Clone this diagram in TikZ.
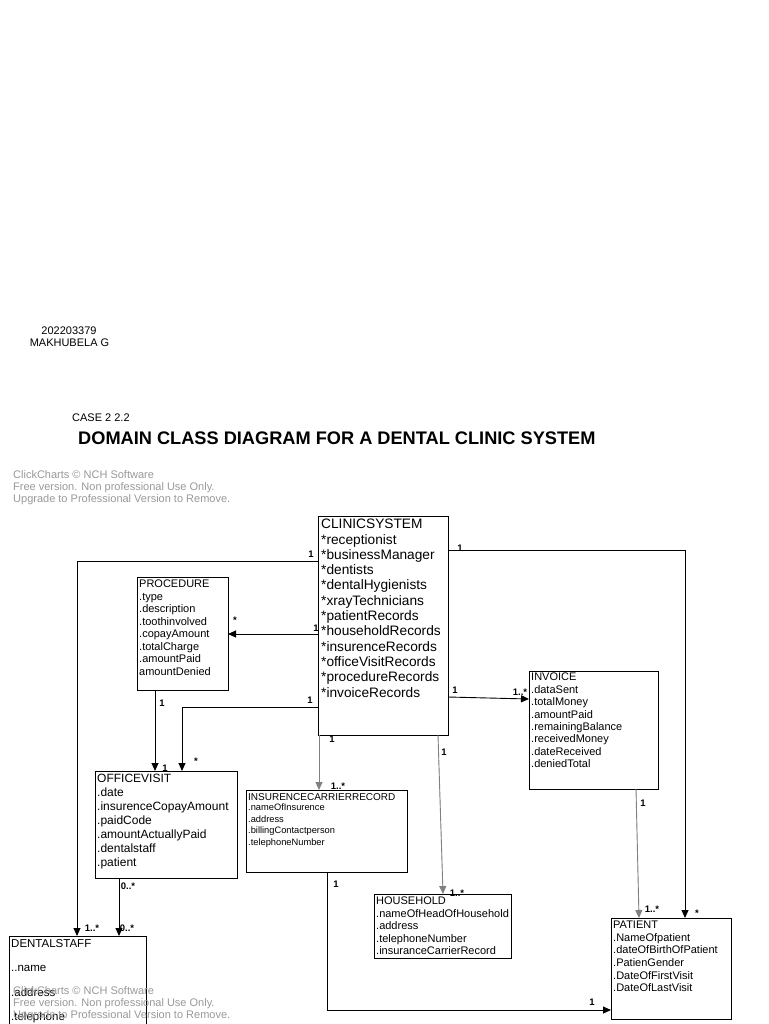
\documentclass[tikz,border=0pt]{standalone}
\usepackage{fontspec}
\setmainfont{Liberation Sans}
\usetikzlibrary{arrows.meta}
\newcommand\myfs[2]{\fontsize{#1}{#2}\selectfont}
\begin{document}
\begin{tikzpicture}[x=1pt,y=-1pt,
 box/.style={draw=black, line width=1pt, inner sep=0pt, outer sep=0pt, anchor=north west},
 txt/.style={anchor=north west, inner sep=0pt, align=left},
 conn/.style={line width=0.9pt, -{Triangle[length=8pt,width=7pt]}},
 gconn/.style={conn, draw=black!50, fill=black!50},
 mult/.style={font=\myfs{9.5}{9.5}\bfseries, inner sep=0pt},
 wm/.style={anchor=north west, inner sep=0pt, align=left, text=black!40, font=\myfs{11}{12}},
 plain/.style={inner sep=0pt, font=\myfs{11}{13}}]
\useasboundingbox[fill=white] (0,0) rectangle (768,1024);

% header texts
\node[plain] (sid) at (69,331) {202203379};
\node[plain] (sname) at (69.5,343) {MAKHUBELA G};
\node[plain, anchor=west] (case) at (72,418) {CASE 2 2.2};
\node[plain, anchor=west, font=\myfs{18.2}{20}\bfseries] (title) at (78,438) {DOMAIN CLASS DIAGRAM FOR A DENTAL CLINIC SYSTEM};
\node[wm] (wm1) at (13,470) {ClickCharts \textcopyright{} NCH Software\\Free version. Non professional Use Only.\\Upgrade to Professional Version to Remove.};

% boxes
\node[box, minimum width=130pt, minimum height=219pt] (cs) at (318,516) {};
\node[box, minimum width=91pt, minimum height=113pt] (proc) at (137,577) {};
\node[box, minimum width=129pt, minimum height=118pt] (inv) at (529,671) {};
\node[box, minimum width=142pt, minimum height=107pt] (ov) at (95,771) {};
\node[box, minimum width=161pt, minimum height=82pt] (ins) at (246,790) {};
\node[box, minimum width=137pt, minimum height=64pt] (hh) at (374,894) {};
\node[box, minimum width=120pt, minimum height=101pt] (pat) at (611,918) {};
\node[box, minimum width=137pt, minimum height=130pt] (ds) at (9,936) {};

% box texts
\node[txt, font=\myfs{13.7}{15.3}] (cst) at (321,519) {CLINICSYSTEM\\*receptionist\\*businessManager\\*dentists\\*dentalHygienists\\*xrayTechnicians\\*patientRecords\\*householdRecords\\*insurenceRecords\\*officeVisitRecords\\*procedureRecords\\*invoiceRecords};
\node[txt, font=\myfs{11}{12.5}] (proct) at (139,580) {PROCEDURE\\.type\\.description\\.toothinvolved\\.copayAmount\\.totalCharge\\.amountPaid\\amountDenied};
\node[txt, font=\myfs{11}{12.4}] (invt) at (531,673) {INVOICE\\.dataSent\\.totalMoney\\.amountPaid\\.remainingBalance\\.receivedMoney\\.dateReceived\\.deniedTotal};
\node[txt, font=\myfs{12}{14}] (ovt) at (97,774) {OFFICEVISIT\\.date\\.insurenceCopayAmount\\.paidCode\\.amountActuallyPaid\\.dentalstaff\\.patient};
\node[txt, font=\myfs{10}{11}] (inst) at (248,793) {INSURENCECARRIERRECORD};
\node[txt, font=\myfs{9.3}{11.5}] (insa) at (248,804) {.nameOfInsurence\\.address\\.billingContactperson\\.telephoneNumber};
\node[txt, font=\myfs{11}{12.5}] (hht) at (376,897) {HOUSEHOLD\\.nameOfHeadOfHousehold\\.address\\.telephoneNumber\\.insuranceCarrierRecord};
\node[txt, font=\myfs{11}{12.6}] (patt) at (613,921) {PATIENT\\.NameOfpatient\\.dateOfBirthOfPatient\\.PatienGender\\.DateOfFirstVisit\\.DateOfLastVisit};
\node[txt, font=\myfs{11.5}{24.5}] (dst) at (11,939) {DENTALSTAFF\\..name\\.address\\.telephone};

% connectors
\draw[conn] (cs.west |- 0,561) -- (77,561) -- (ds.north -| 77,0);
\draw[conn] (cs.east |- 0,550) -- (685,550) -- (pat.north -| 685,0);
\draw[conn] (cs.west |- 0,634) -- (proc.east |- 0,634);
\draw[conn] (proc.south -| 155,0) -- (ov.north -| 155,0);
\draw[conn] (cs.west |- 0,707) -- (182,707) -- (ov.north -| 182,0);
\draw[gconn] (cs.south -| 319,0) -- (ins.north -| 319,0);
\draw[gconn] (cs.south -| 438,0) -- (hh.north -| 443,0);
\draw[conn] (cs.east |- 0,697) -- (inv.west |- 0,699);
\draw[gconn] (inv.south -| 636,0) -- (pat.north -| 639,0);
\draw[conn] (ins.south -| 327,0) -- (327,1010) -- (pat.west |- 0,1010);
\draw[conn] (ov.south -| 119,0) -- (ds.north -| 119,0);

% multiplicities
\node[mult] (m1) at (311,554) {1};
\node[mult] (m2) at (92,928) {1..*};
\node[mult] (m3) at (460,548) {1};
\node[mult] (m4) at (697,913) {*};
\node[mult] (m5) at (316,628) {1};
\node[mult] (m6) at (235,620) {*};
\node[mult] (m7) at (162,703) {1};
\node[mult] (m8) at (165,768) {1};
\node[mult] (m9) at (310,700) {1};
\node[mult] (m10) at (196,761) {*};
\node[mult] (m11) at (332,739) {1};
\node[mult] (m12) at (338,786) {1..*};
\node[mult] (m13) at (444,752) {1};
\node[mult] (m14) at (457,893) {1..*};
\node[mult] (m15) at (455,690) {1};
\node[mult] (m16) at (520,692) {1..*};
\node[mult] (m17) at (643,803) {1};
\node[mult] (m18) at (652,909) {1..*};
\node[mult] (m19) at (336,884) {1};
\node[mult] (m20) at (592,1002) {1};
\node[mult] (m21) at (128,886) {0..*};
\node[mult] (m22) at (127,928) {0..*};

% second watermark (overlaps the DENTALSTAFF box, as in the reference)
\node[wm] (wm2) at (13,986) {ClickCharts \textcopyright{} NCH Software\\Free version. Non professional Use Only.\\Upgrade to Professional Version to Remove.};
\end{tikzpicture}
\end{document}
